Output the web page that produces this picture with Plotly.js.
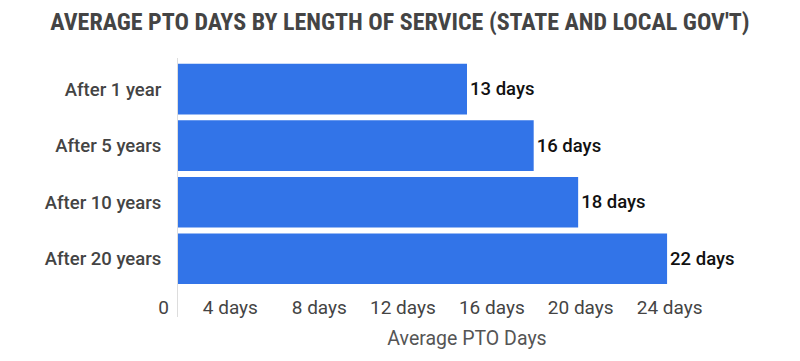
<!DOCTYPE html>
<html>
<head>
<meta charset="utf-8">
<script src="https://cdn.plot.ly/plotly-3.0.1.min.js"></script>
<style>html,body{margin:0;padding:0;background:#fff;}#chart{width:800px;height:361px;}</style>
</head>
<body>
<div id="chart"></div>
<script>
const categories = ["After 1 year", "After 5 years", "After 10 years", "After 20 years"];
const ptoDays = [13, 16, 18, 22];
const barLabels = ["13 days", "16 days", "18 days", "22 days"];
const tickValues = [0, 4, 8, 12, 16, 20, 24];
const tickLabels = ["0", "4 days", "8 days", "12 days", "16 days", "20 days", "24 days"];

const trace = {
  type: "bar",
  orientation: "h",
  y: categories,
  x: ptoDays,
  text: barLabels,
  texttemplate: "%{text}",
  marker: {color: "#3274e8"},
  textposition: "outside",
  textfont: {family: "Roboto", size: 18.5, color: "#111111", weight: 500},
  cliponaxis: false,
  hoverinfo: "skip",
  width: 0.895
};

const layout = {
  width: 800, height: 361,
  margin: {l: 178, r: 44, t: 58, b: 44, pad: 0},
  paper_bgcolor: "#ffffff",
  plot_bgcolor: "#ffffff",
  showlegend: false,
  font: {family: "Roboto", color: "#444444"},
  title: {
    text: "AVERAGE PTO DAYS BY LENGTH OF SERVICE (STATE AND LOCAL GOV'T)",
    font: {family: "Roboto Condensed, Liberation Sans Narrow, DejaVu Sans Condensed, Roboto", size: 24, color: "#444444", weight: 700},
    x: 0.5, xref: "container", xanchor: "center",
    y: 0.939, yref: "container", yanchor: "middle"
  },
  xaxis: {
    range: [0, 26],
    tickvals: tickValues,
    ticktext: tickLabels,
    ticklabelposition: "inside left",
    ticklabeloverflow: "allow",
    ticklabelshift: -9,
    ticklabelstandoff: -7,
    ticks: "",
    showgrid: false,
    zeroline: false,
    showline: false,
    tickfont: {family: "Roboto", size: 19, color: "#444444"},
    title: {text: "Average PTO Days", font: {family: "Roboto", size: 19.5, color: "#555555"}, standoff: 13},
    automargin: false,
    fixedrange: true
  },
  yaxis: {
    type: "category",
    categoryorder: "array",
    categoryarray: categories,
    range: [4.03, -0.55],
    showline: true,
    linecolor: "#dddddd",
    linewidth: 1,
    showgrid: false,
    zeroline: false,
    ticks: "",
    ticklabelstandoff: 12,
    tickfont: {family: "Roboto", size: 18.5, color: "#444444", weight: 500},
    automargin: false,
    fixedrange: true
  }
};

Plotly.newPlot("chart", [trace], layout, {displayModeBar: false, staticPlot: true});
</script>
</body>
</html>
